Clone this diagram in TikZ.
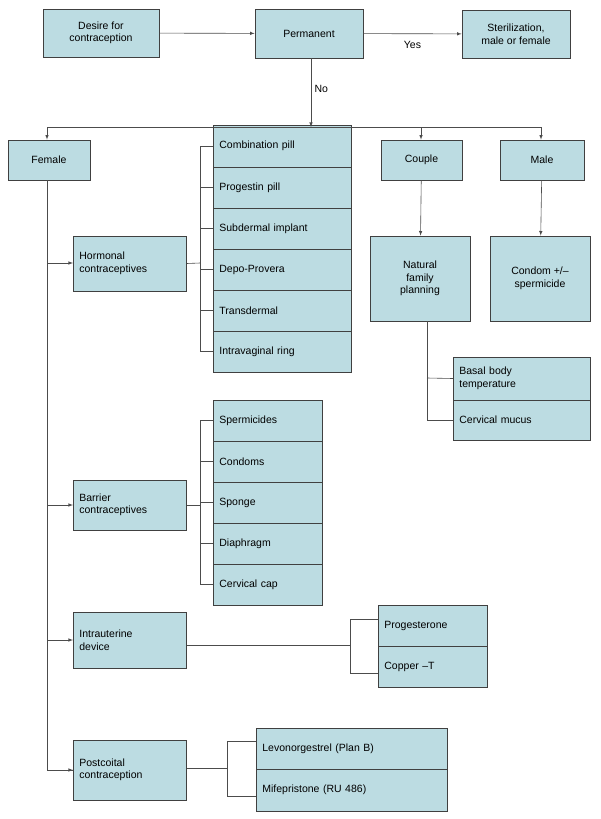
\documentclass[tikz,border=0pt]{standalone}
\usepackage{fontspec}
\setmainfont{Liberation Sans}
\begin{document}
\begin{tikzpicture}[x=1pt,y=-1pt,
 bx/.style={draw=black!75,fill=boxc,line width=0.8pt,inner sep=0pt,align=center,font=\fontsize{10.5}{12.5}\selectfont},
 lb/.style={bx,align=left,text width=#1},
 ln/.style={draw=black!70,line width=0.6pt},
 ar/.style={ln,-latex}]
\definecolor{boxc}{HTML}{BCDCE2}
\useasboundingbox (0,0) rectangle (600,819);
\newcommand\bxat[6]{\node[bx,minimum width=#4-#2,minimum height=#5-#3] (#1) at ({(#2+#4)/2},{(#3+#5)/2}) {#6};}
\newcommand\lbat[6]{\node[bx,anchor=west,align=left,minimum width=#4-#2,minimum height=#5-#3,text width=#4-#2-12,inner xsep=6pt] (#1) at (#2,{(#3+#5)/2}) {#6};}
\bxat{des}{43}{9}{159}{57}{Desire for\\contraception}
\bxat{perm}{255}{9}{363}{58}{Permanent}
\bxat{ster}{462}{10}{570}{58}{Sterilization,\\male or female}
\bxat{fem}{8}{140}{90}{180}{Female}
\bxat{cou}{381}{140}{462}{180}{Couple}
\bxat{mal}{500}{140}{584}{180}{Male}
\bxat{nfp}{370}{236}{470}{321}{Natural\\family\\planning}
\bxat{con}{490}{236}{590}{321}{Condom +/--\\spermicide}
\lbat{hor}{73}{236}{186}{291}{Hormonal\\contraceptives}
\lbat{bar}{73}{480}{186}{530}{Barrier\\contraceptives}
\lbat{iud}{73}{612}{186}{668}{Intrauterine\\device}
\lbat{pc}{73}{740}{186}{800}{Postcoital\\contraception}
% hormonal list
\lbat{h1}{213}{125}{351}{167}{Combination pill}
\lbat{h2}{213}{167}{351}{208}{Progestin pill}
\lbat{h3}{213}{208}{351}{249}{Subdermal implant}
\lbat{h4}{213}{249}{351}{290}{Depo-Provera}
\lbat{h5}{213}{290}{351}{331}{Transdermal}
\lbat{h6}{213}{331}{351}{372}{Intravaginal ring}
\lbat{b1}{213}{400}{322}{441}{Spermicides}
\lbat{b2}{213}{441}{322}{482}{Condoms}
\lbat{b3}{213}{482}{322}{523}{Sponge}
\lbat{b4}{213}{523}{322}{564}{Diaphragm}
\lbat{b5}{213}{564}{322}{605}{Cervical cap}
\lbat{n1}{453}{357}{590}{400}{Basal body\\temperature}
\lbat{n2}{453}{400}{590}{440}{Cervical mucus}
\lbat{i1}{378}{605}{487}{646}{Progesterone}
\lbat{i2}{378}{646}{487}{687}{Copper --T}
\lbat{p1}{256}{728}{447}{769}{Levonorgestrel (Plan B)}
\lbat{p2}{256}{769}{447}{811}{Mifepristone (RU 486)}
% top connectors
\draw[ar] (des) -- (perm);
\draw[ar] (perm) -- node[below=4pt,font=\fontsize{10.5}{12}\selectfont]{Yes} (ster);
\coordinate (j) at (311,127);
\draw[ar] (perm.south -| j) -- node[right,font=\fontsize{10.5}{12}\selectfont,pos=0.45]{No} (j);
\coordinate (jl) at (47,127); \coordinate (jr) at (541,127);
\draw[ln] (jl) -- (jr);
\draw[ar] (jl) -- (fem.north -| jl);
\draw[ar] (421,127) -- (cou.north -| 421,0);
\draw[ar] (jr) -- (mal.north -| jr);
\draw[ar] (cou) -- (nfp);
\draw[ar] (mal) -- (con);
% female trunk
\coordinate (ft) at (47,770);
\draw[ln] (fem.south -| ft) -- (ft) -- (pc.west |- ft);
\foreach \n/\y in {hor/263,bar/505,iud/640}{\draw[ar] (47,\y) -- (\n.west |- 0,\y);}
\draw[ar] (47,770) -- (pc.west |- 0,770);
% brackets
\draw[ln] (hor.east) -- (200,263);
\draw[ln] (200,146) -- (200,352);
\foreach \n in {h1,h2,h3,h4,h5,h6}{\draw[ln] (\n.west -| 200,0) -- (\n.west);}
\draw[ln] (bar.east) -- (200,505);
\draw[ln] (200,421) -- (200,585);
\foreach \n in {b1,b2,b3,b4,b5}{\draw[ln] (\n.west -| 200,0) -- (\n.west);}
\draw[ln] (427,321) -- (427,420);
\draw[ln] (427,378) -- (n1.west); \draw[ln] (427,420) -- (n2.west);
\draw[ln] (iud.east |- 0,645) -- (350,645);
\draw[ln] (350,619) -- (350,673);
\draw[ln] (350,619) -- (i1.west |- 0,619); \draw[ln] (350,673) -- (i2.west |- 0,673);
\draw[ln] (pc.east |- 0,768) -- (227,768);
\draw[ln] (227,741) -- (227,796);
\draw[ln] (227,741) -- (p1.west |- 0,741); \draw[ln] (227,796) -- (p2.west |- 0,796);
\end{tikzpicture}
\end{document}
